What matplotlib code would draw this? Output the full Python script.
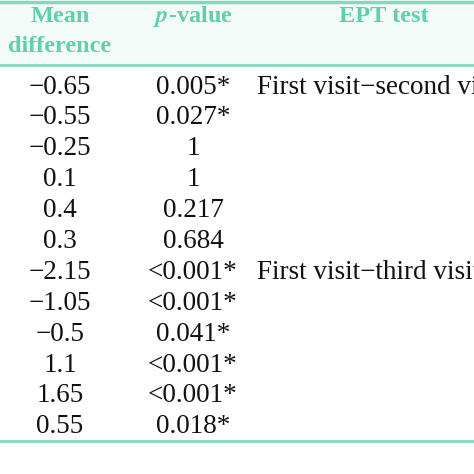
import matplotlib
matplotlib.use("Agg")
import matplotlib.pyplot as plt

mean_diff = ["\u22120.65", "\u22120.55", "\u22120.25", "0.1", "0.4", "0.3",
             "\u22122.15", "\u22121.05", "\u22120.5", "1.1", "1.65", "0.55"]
p_values = ["0.005*", "0.027*", "1", "1", "0.217", "0.684",
            "<0.001*", "<0.001*", "0.041*", "<0.001*", "<0.001*", "0.018*"]
ept = ["First visit\u2212second visit", "", "", "", "", "",
       "First visit\u2212third visit", "", "", "", "", ""]

plt.rcParams["mathtext.fontset"] = "stix"
fig = plt.figure(figsize=(4.74, 4.74), dpi=100)
ax = fig.add_axes([0, 0, 1, 1])
ax.set_xlim(0, 474)
ax.set_ylim(474, 0)
ax.axis("off")
ff = "Liberation Serif"
hc = "#5fd0aa"
lc = "#7fdcb8"
ax.axhspan(2, 65, color="#f3fbf8", zorder=0)
for y, w in [(2, 2.5), (65, 2), (441, 2)]:
    ax.axhline(y, color=lc, lw=w)
hs = 17.5
bs = 19.5
ax.text(60, 16, "Mean", ha="center", va="center", fontsize=hs, color=hc, family=ff, weight="bold")
ax.text(60, 46, "difference", ha="center", va="center", fontsize=hs, color=hc, family=ff, weight="bold")
ax.text(193, 16, r"$\boldsymbol{p}$-value", ha="center", va="center", fontsize=hs, color=hc, family=ff, weight="bold")
ax.text(384, 16, "EPT test", ha="center", va="center", fontsize=hs, color=hc, family=ff, weight="bold")
for i in range(len(mean_diff)):
    y = 87 + i * 30.9
    ax.text(60, y, mean_diff[i], ha="center", va="center", fontsize=bs, family=ff, color="#111")
    ax.text(193, y, p_values[i], ha="center", va="center", fontsize=bs, family=ff, color="#111")
    ax.text(257, y, ept[i], ha="left", va="center", fontsize=bs, family=ff, color="#111")
fig.savefig("out.png", dpi=100)
